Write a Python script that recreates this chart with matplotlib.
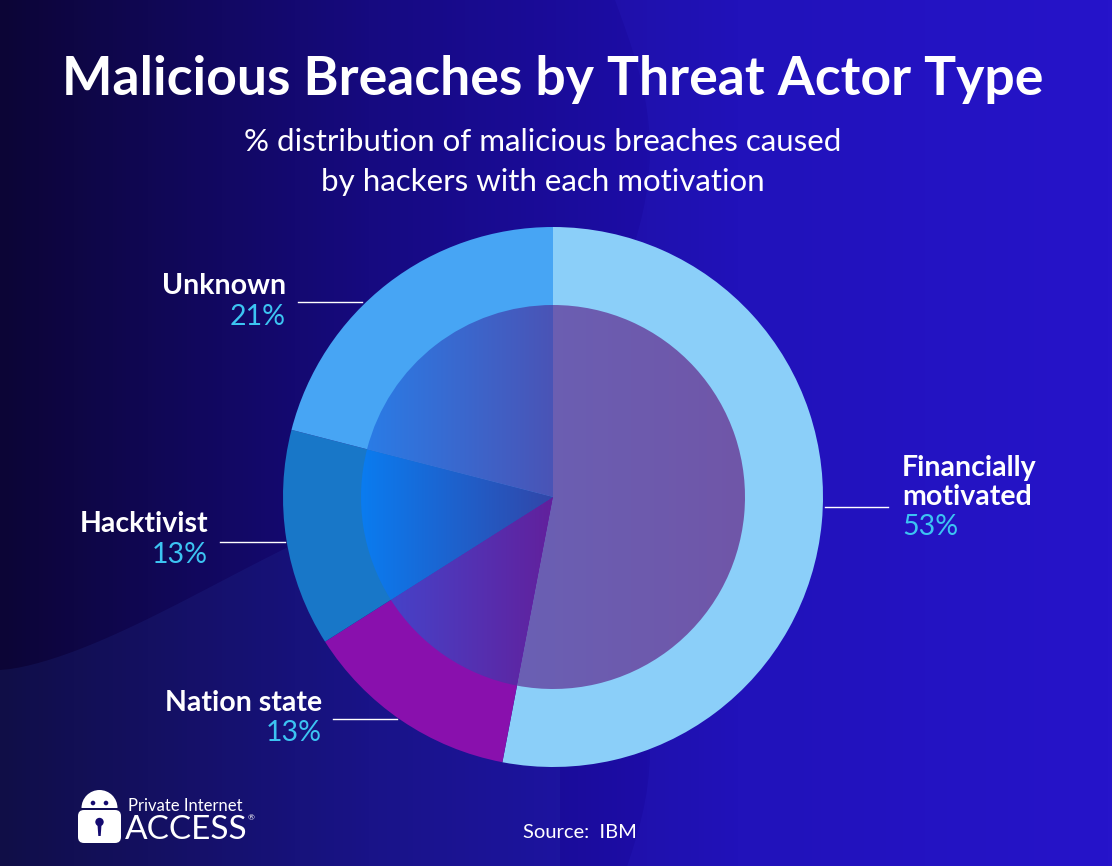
import numpy as np
import matplotlib.pyplot as plt
from matplotlib.patches import Wedge, FancyBboxPatch, Circle, Polygon
from matplotlib.colors import LinearSegmentedColormap

# data
labels = ["Financially\nmotivated", "Nation state", "Hacktivist", "Unknown"]
shares = [53, 13, 13, 21]
outer_colors = ["#8bcff9", "#8910ad", "#1877c8", "#47a5f4"]
inner_grad = [("#6a60b4", "#7056a8"), ("#4642c8", "#62209c"),
              ("#0a7cf0", "#3246a8"), ("#2a7ce6", "#4a54b6")]

W, H = 1112, 866
fig = plt.figure(figsize=(W / 100, H / 100), dpi=100)
ax = fig.add_axes([0, 0, 1, 1])
ax.set_xlim(0, W)
ax.set_ylim(0, H)
ax.axis("off")

# background gradient
bg = LinearSegmentedColormap.from_list("bg", ["#0c0536", "#160a80", "#1f0eb4", "#2410c6"])
grad = np.tile(np.linspace(0, 1, 256), (2, 1))
ax.imshow(grad, cmap=bg, extent=[0, W, 0, H], aspect="auto", zorder=0)

# lighter blobs
yy = np.linspace(H, 0, 60)
xr = 615 + 35 * np.sin((H - yy) / 300 * np.pi)
blob = Polygon(np.vstack([np.column_stack([xr, yy]), [[W, 0], [W, H]]]),
               closed=True, fc="#3a3af0", alpha=0.10, lw=0, zorder=0.5)
ax.add_patch(blob)
xs = np.linspace(0, 560, 60)
ys = H - (670 - 200 * np.sin(np.clip(xs / 560, 0, 1) * np.pi / 2) ** 1.5)
wave = Polygon(np.vstack([np.column_stack([xs, ys]), [[560, 0], [0, 0]]]),
               closed=True, fc="#3050c0", alpha=0.13, lw=0, zorder=0.5)
ax.add_patch(wave)

# pie
cx, cy = 553, H - 497
R_out, R_in = 270, 192
ax.pie(shares, colors=outer_colors, startangle=90, counterclock=False,
       center=(cx, cy), radius=R_out, wedgeprops=dict(lw=0), frame=True)
ax.set_xlim(0, W)
ax.set_ylim(0, H)
ax.set_aspect("auto")

ang = 90.0
for s, (c1, c2) in zip(shares, inner_grad):
    a2 = ang
    a1 = ang - s * 3.6
    w = Wedge((cx, cy), R_in, a1, a2, lw=0, fc="none")
    ax.add_patch(w)
    cm = LinearSegmentedColormap.from_list("g", [c1, c2])
    # each wedge gets its gradient over its own horizontal span
    xs_w = [cx] + [cx + R_in * np.cos(np.radians(t)) for t in np.linspace(a1, a2, 50)]
    im = ax.imshow(grad, cmap=cm, extent=[min(xs_w), max(xs_w), cy - R_in, cy + R_in],
                   aspect="auto", zorder=2)
    im.set_clip_path(w)
    ang = a1

# labels
fam = ["Lato", "DejaVu Sans"]
cyan = "#3cc4f2"
lbl = [
    # text, x, y name, y pct, leader line
    ("Unknown", 286, 286, 317, (298, 362, 302)),
    ("Hacktivist", 208, 524, 555, (220, 285, 542)),
    ("Nation state", 322, 703, 733, (333, 397, 719)),
]
pcts = {"Unknown": 21, "Hacktivist": 13, "Nation state": 13}
for name, x, yn, yp, (x1, x2, yl) in lbl:
    ax.text(x, H - yn, name, ha="right", va="center", color="white", fontsize=20.5,
            fontweight="bold", family=fam)
    ax.text(x, H - yp, f"{pcts[name]}%", ha="right", va="center", color=cyan,
            fontsize=20.5, family=fam)
    ax.plot([x1, x2], [H - yl, H - yl], color="white", lw=1)

ax.text(902, H - 468, "Financially", ha="left", va="center", color="white",
        fontsize=20.5, fontweight="bold", family=fam)
ax.text(902, H - 497, "motivated", ha="left", va="center", color="white",
        fontsize=20.5, fontweight="bold", family=fam)
ax.text(902, H - 527, f"{shares[0]}%", ha="left", va="center", color=cyan,
        fontsize=20.5, family=fam)
ax.plot([825, 888], [H - 507, H - 507], color="white", lw=1)

# titles
ax.text(553, H - 80, "Malicious Breaches by Threat Actor Type", ha="center", va="center",
        color="white", fontsize=38.5, fontweight="bold", family=fam)
ax.text(543, H - 142, "% distribution of malicious breaches caused", ha="center",
        va="center", color="white", fontsize=22.5, family=fam)
ax.text(543, H - 182, "by hackers with each motivation", ha="center",
        va="center", color="white", fontsize=22.5, family=fam)
ax.text(580, H - 832, "Source:  IBM", ha="center", va="center", color="white",
        fontsize=14.5, family=fam)

# logo
ax.add_patch(FancyBboxPatch((78, H - 843), 43, 33, boxstyle="round,pad=0,rounding_size=6",
                            fc="white", lw=0, zorder=3))
ax.add_patch(Wedge((99.5, H - 808), 18, 0, 180, fc="white", lw=0, zorder=3))
ax.add_patch(Circle((93, H - 803), 2.3, fc="#140a70", lw=0, zorder=4))
ax.add_patch(Circle((106, H - 803), 2.3, fc="#140a70", lw=0, zorder=4))
ax.add_patch(Circle((99.5, H - 822), 4.2, fc="#140a70", lw=0, zorder=4))
ax.add_patch(Polygon([[97.3, H - 822], [101.7, H - 822], [100.7, H - 836], [98.3, H - 836]],
                     fc="#140a70", lw=0, zorder=4))
ax.text(128, H - 806, "Private Internet", ha="left", va="center", color="white",
        fontsize=12, family=fam)
ax.text(125, H - 830, "ACCESS", ha="left", va="center", color="white",
        fontsize=24, family=fam)
ax.text(248, H - 818, "®", ha="left", va="center", color="white", fontsize=6, family=fam)

fig.savefig("out.png", dpi=100)
